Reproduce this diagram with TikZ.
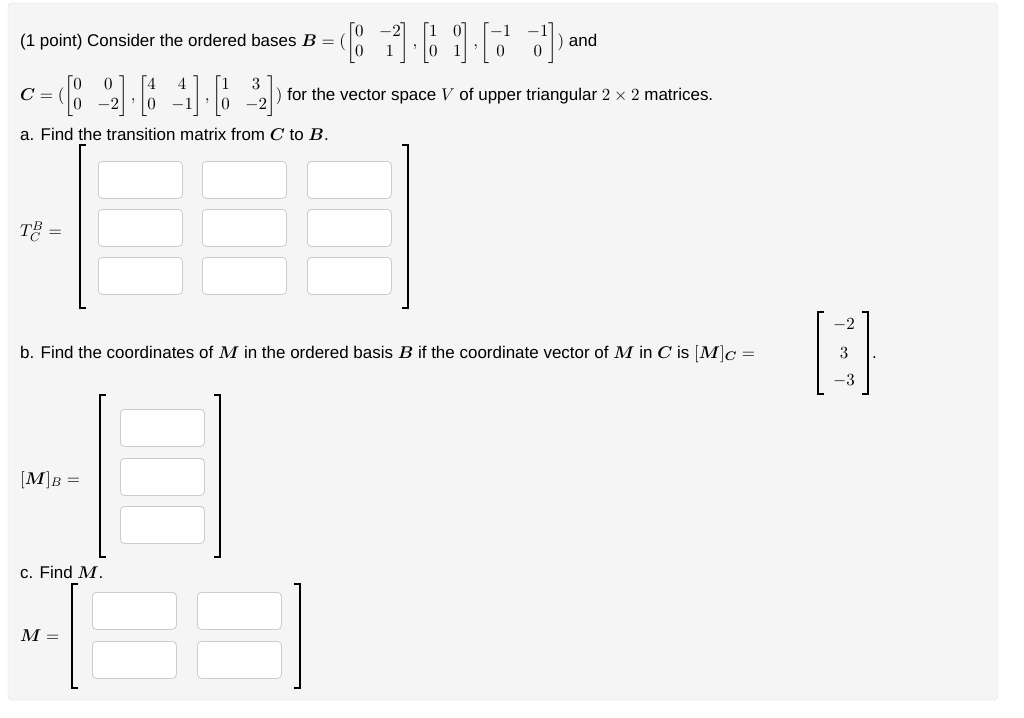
\documentclass[tikz,border=0pt]{standalone}
\usepackage{amsmath,bm}
\usepackage{fontspec}
\setmainfont{Liberation Sans}
\newcommand{\Tx}[1]{\scalebox{1.55}{\fontsize{10.95}{13}\selectfont #1}}
\begin{document}
\begin{tikzpicture}[x=1pt,y=-1pt,
  ibox/.style={draw=black!20,fill=white,rounded corners=4pt,line width=0.8pt},
  txt/.style={anchor=base west,inner sep=0pt},
  brk/.style={line width=1.6pt}]
\useasboundingbox (0,0) rectangle (1024,717);
\fill[white] (0,0) rectangle (1024,717);
\draw[draw=black!12,fill=black!4,rounded corners=4pt] (8,3) rectangle (998,700);
% line 1
\node[txt] (l1) at (20,47) {\Tx{(1 point) Consider the ordered bases $\bm B=(\begin{bmatrix}0&-2\\0&1\end{bmatrix},\begin{bmatrix}1&0\\0&1\end{bmatrix},\begin{bmatrix}-1&-1\\0&0\end{bmatrix})$ and}};
\node[txt] (l2) at (20,100) {\Tx{$\bm C=(\begin{bmatrix}0&0\\0&-2\end{bmatrix},\begin{bmatrix}4&4\\0&-1\end{bmatrix},\begin{bmatrix}1&3\\0&-2\end{bmatrix})$ for the vector space $V$ of upper triangular $2\times 2$ matrices.}};
\node[txt] (l3) at (20,140) {\Tx{a. Find the transition matrix from $\bm C$ to $\bm B$.}};
% part a
\node[txt,anchor=west] (ta) at (20,232) {\Tx{$T_C^B=$}};
\draw[brk] (86,145) -- (80,145) -- (80,308) -- (86,308);
\draw[brk] (402,145) -- (408,145) -- (408,308) -- (402,308);
\foreach \yy in {161,209,257}{
  \foreach \xx in {98,202,307}{
    \node[ibox,minimum width=84pt,minimum height=37pt,anchor=north west] at (\xx,\yy) {};}}
% part b
\node[txt] (lb) at (20,358) {\Tx{b. Find the coordinates of $\bm M$ in the ordered basis $\bm B$ if the coordinate vector of $\bm M$ in $\bm C$ is $[\bm M]_{\bm C}=$}};
\draw[brk] (824,312) -- (818,312) -- (818,394) -- (824,394);
\draw[brk] (862,312) -- (868,312) -- (868,394) -- (862,394);
\node (v1) at (844,325) {\Tx{$-2$}};
\node (v2) at (844,353) {\Tx{$3$}};
\node (v3) at (844,381) {\Tx{$-3$}};
\node[txt] (dot) at (872,358) {\Tx{.}};
\node[txt,anchor=west] (mb) at (20,480) {\Tx{$[\bm M]_B=$}};
\draw[brk] (106,395) -- (100,395) -- (100,557) -- (106,557);
\draw[brk] (214,395) -- (220,395) -- (220,557) -- (214,557);
\foreach \yy in {409,458,506}{
  \node[ibox,minimum width=84pt,minimum height=37pt,anchor=north west] at (120,\yy) {};}
% part c
\node[txt] (lc) at (20,578) {\Tx{c. Find $\bm M$.}};
\node[txt,anchor=west] (mm) at (20,636) {\Tx{$\bm M=$}};
\draw[brk] (78,584) -- (72,584) -- (72,688) -- (78,688);
\draw[brk] (294,584) -- (300,584) -- (300,688) -- (294,688);
\foreach \yy in {592,641}{
  \foreach \xx in {92,197}{
    \node[ibox,minimum width=84pt,minimum height=37pt,anchor=north west] at (\xx,\yy) {};}}
\end{tikzpicture}
\end{document}
